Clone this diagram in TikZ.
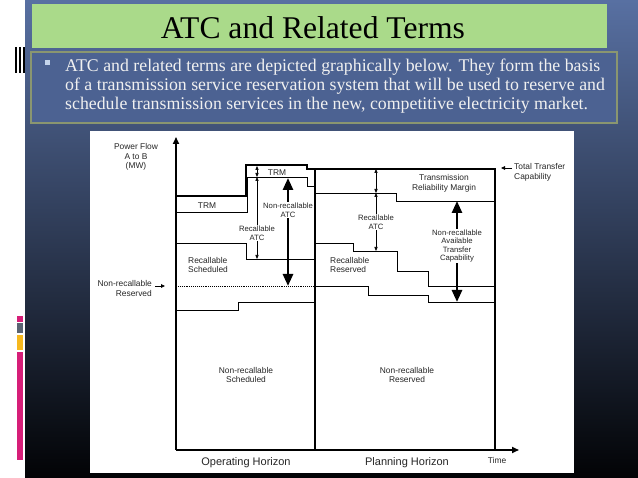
\documentclass[tikz,border=0pt]{standalone}
\usepackage{fontspec}
\setmainfont{Liberation Serif}
\newfontfamily\chartfont{Liberation Sans}
\usetikzlibrary{arrows.meta}
\definecolor{slidetop}{RGB}{88,112,162}
\definecolor{slidebot}{RGB}{2,3,5}
\definecolor{titlegreen}{RGB}{170,218,138}
\definecolor{boxblue}{RGB}{76,98,146}
\definecolor{boxrim}{RGB}{138,150,112}
\definecolor{bulletblue}{RGB}{196,212,236}
\definecolor{markpink}{RGB}{214,30,120}
\definecolor{markgold}{RGB}{246,184,30}
\definecolor{markgray}{RGB}{90,100,115}
\colorlet{ink}{black!85}
\newcommand\lblfont{\chartfont\fontsize{8.4}{9.7}\selectfont}
\newcommand\atcfont{\chartfont\fontsize{7.7}{8.6}\selectfont}
\tikzstyle{bighead}=[>/.tip={Triangle[length=12pt,width=10pt]}]
\tikzstyle{smallhead}=[>/.tip={Triangle[length=4pt,width=3.2pt]}]
\tikzstyle{axis}=[line width=1.6pt,>/.tip={Triangle[length=7pt,width=6pt]},->]
\tikzstyle{outline}=[line width=1.6pt,line join=miter]
\tikzstyle{stepline}=[line width=.9pt]
\tikzstyle{fatarrow}=[line width=2.6pt,bighead,<->]
\tikzstyle{slimarrow}=[line width=.7pt,smallhead,<->]
\tikzstyle{pointer}=[line width=.8pt,>/.tip={Triangle[length=4pt,width=3.6pt]},->]
\tikzstyle{lbl}=[font=\lblfont,align=center,text=ink,inner sep=1pt]
\tikzstyle{atclbl}=[lbl,font=\atcfont,fill=white]
\tikzstyle{horizon}=[font=\chartfont\fontsize{11}{13}\selectfont,text=ink,inner sep=0pt]
\begin{document}
\begin{tikzpicture}[x=1pt,y=-1pt]
	\useasboundingbox (0,0) rectangle (638,478);
	% slide
	\fill[white] (0,0) rectangle (638,478);
	\shade[top color=slidetop,bottom color=slidebot] (25,0) rectangle (638,478);
	\foreach \s in {15,19,23} \fill[black] (\s,47) rectangle ++(2.4,26);
	\fill[markpink] (17,316) rectangle (23,322);
	\fill[markgray] (17,323) rectangle (23,333);
	\fill[markgold] (17,335) rectangle (23,350);
	\fill[markpink] (17,352) rectangle (23,460);
	\fill[titlegreen] (32,4) rectangle (607,48);
	\node[anchor=base west,inner sep=0pt,font=\fontsize{31.6}{36}\selectfont] (title) at (160.7,38.5) {ATC and Related Terms};
	\draw[boxrim,line width=1.6pt,fill=boxblue] (31,52) rectangle (617,123);
	\fill[bulletblue] (45,60) rectangle ++(5,5);
	\node[anchor=base west,inner sep=0pt,align=left,text=white!94!black,font=\fontsize{17.8}{19.1}\selectfont] (body) at (65,110)
		{ATC and related terms are depicted graphically below. They form the basis\\
		 of a transmission service reservation system that will be used to reserve and\\
		 schedule transmission services in the new, competitive electricity market.};
	% chart
	\fill[white] (90,131) rectangle (574,473);
	\coordinate (O) at (176,450);
	\coordinate (ytop) at (176,137);
	\coordinate (xend) at (519,450);
	\draw[axis] (O) -- (ytop);
	\draw[axis] (O) -- (xend);
	\draw[outline] (176,196) -- (246,196) -- (246,165) -- (307,165) -- (307,169) -- (495,169) -- (495,450);
	\draw[outline] (315,169) -- (315,450);
	% operating horizon
	\draw[stepline] (176,212) -- (247.5,212) -- (247.5,177) -- (307,177) -- (307,186) -- (315,186);
	\draw[stepline] (176,243) -- (246,243) -- (246,259) -- (315,259);
	\draw[stepline,densely dotted] (176,286) -- (315,286);
	\draw[stepline] (176,310) -- (238,310) -- (238,302) -- (315,302);
	% planning horizon
	\draw[stepline] (315,193) -- (396,193) -- (396,201) -- (495,201);
	\draw[stepline] (315,243) -- (353,243) -- (353,251) -- (397,251) -- (397,271) -- (428,271) -- (428,286) -- (495,286);
	\draw[stepline] (315,286) -- (368,286) -- (368,295) -- (428,295) -- (428,302) -- (495,302);
	% arrows
	\coordinate (otrmtop) at (257,166);
	\coordinate (otrmbot) at (257,177);
	\coordinate (oatcbot) at (257,259);
	\coordinate (onrtop) at (288,178);
	\coordinate (onrbot) at (288,286);
	\coordinate (ptrmtop) at (376,169);
	\coordinate (ptrmbot) at (376,193);
	\coordinate (patcbot) at (376,251);
	\coordinate (pnrtop) at (457,201);
	\coordinate (pnrbot) at (457,302);
	\draw[slimarrow] (otrmtop) -- (otrmbot);
	\draw[slimarrow] (otrmbot) -- (oatcbot);
	\draw[fatarrow] (onrtop) -- (onrbot);
	\draw[slimarrow] (ptrmtop) -- (ptrmbot);
	\draw[slimarrow] (ptrmbot) -- (patcbot);
	\draw[fatarrow] (pnrtop) -- (pnrbot);
	% labels
	\node[lbl] (flow) at (136,157) {Power Flow\\A to B\\(MW)};
	\node[lbl,anchor=east,align=right] (nrreserved) at (153,288.5) {Non-recallable\\Reserved};
	\node[lbl,anchor=west,align=left] (ttc) at (513,172) {Total Transfer\\Capability};
	\node[lbl] (trmop) at (207,206) {TRM};
	\node[lbl] (trmsmall) at (277,172.5) {TRM};
	\node[atclbl] (nratcop) at (288,210) {Non-recallable\\ATC};
	\node[atclbl] (ratcop) at (257,233) {Recallable\\ATC};
	\node[lbl,anchor=west,align=left] (rsched) at (187,265) {Recallable\\Scheduled};
	\node[lbl] (nrsched) at (246,375) {Non-recallable\\Scheduled};
	\node[lbl] (trmpl) at (444,183) {Transmission\\Reliability Margin};
	\node[atclbl] (ratcpl) at (376,222) {Recallable\\ATC};
	\node[atclbl] (natc) at (457,246) {Non-recallable\\Available\\Transfer\\Capability};
	\node[lbl,anchor=west,align=left] (rres) at (329,265) {Recallable\\Reserved};
	\node[lbl] (nrres) at (407,375) {Non-recallable\\Reserved};
	\node[lbl] (time) at (497,460) {Time};
	\node[horizon] (oph) at (246,463) {Operating Horizon};
	\node[horizon] (plh) at (407,463) {Planning Horizon};
	\draw[pointer] ([xshift=2pt,yshift=2.5pt]nrreserved.east) -- ++(10,0);
	\draw[pointer] ([xshift=-1pt,yshift=4pt]ttc.west) -- ++(-11,0);
\end{tikzpicture}
\end{document}
